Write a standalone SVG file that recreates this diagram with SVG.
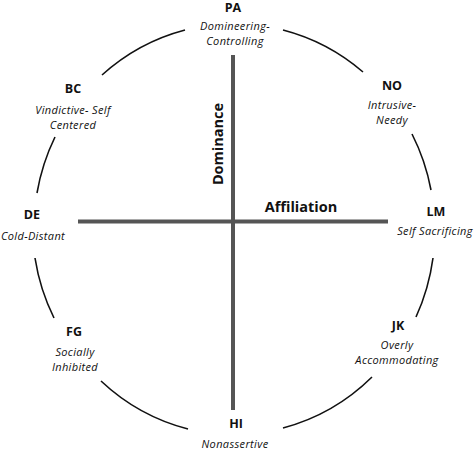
<svg xmlns="http://www.w3.org/2000/svg" width="474" height="451" viewBox="0 0 474 451">
<style>
.arc{fill:none;stroke:#111;stroke-width:1.6}
.axis{stroke:#555;stroke-width:4;fill:none}
.code{font-family:"Open Sans","Liberation Sans",sans-serif;font-weight:bold;font-size:12.5px;fill:#111;text-anchor:middle}
.desc{font-family:"Open Sans","Liberation Sans",sans-serif;font-style:italic;font-size:11px;letter-spacing:0.35px;fill:#111;text-anchor:middle}
.ax{font-family:"Open Sans","Liberation Sans",sans-serif;font-weight:bold;font-size:14.5px;fill:#111;text-anchor:middle}
</style>
<rect width="474" height="451" fill="#fff"/>
<g id="connectors">
<path class="arc" d="M283,30 A201,205 0 0 1 363,72"/>
<path class="arc" d="M412,134 A201,205 0 0 1 431,190"/>
<path class="arc" d="M433,258 A201,205 0 0 1 416,317"/>
<path class="arc" d="M372,377 A201,205 0 0 1 283,428"/>
<path class="arc" d="M188,429 A201,205 0 0 1 101,381"/>
<path class="arc" d="M54,318 A201,205 0 0 1 35,258"/>
<path class="arc" d="M37,193 A201,205 0 0 1 55,137"/>
<path class="arc" d="M102,75 A201,205 0 0 1 185,30"/>
<line class="axis" x1="233" y1="55" x2="233" y2="410"/>
<line class="axis" x1="78" y1="221.5" x2="388" y2="221.5"/>
</g>
<g id="axis-dominance"><text class="ax" transform="translate(223,144) rotate(-90)">Dominance</text></g>
<g id="axis-affiliation"><text class="ax" x="301" y="212">Affiliation</text></g>
<g id="PA"><text class="code" x="233" y="12">PA</text><text class="desc" x="235" y="30">Domineering-</text><text class="desc" x="235" y="45">Controlling</text></g>
<g id="NO"><text class="code" x="392" y="90">NO</text><text class="desc" x="392" y="109">Intrusive-</text><text class="desc" x="392" y="124">Needy</text></g>
<g id="LM"><text class="code" x="436" y="216">LM</text><text class="desc" x="435" y="235">Self Sacrificing</text></g>
<g id="JK"><text class="code" x="398" y="330">JK</text><text class="desc" x="397" y="349">Overly</text><text class="desc" x="397" y="364">Accommodating</text></g>
<g id="HI"><text class="code" x="236" y="428">HI</text><text class="desc" x="235" y="448">Nonassertive</text></g>
<g id="FG"><text class="code" x="74" y="336">FG</text><text class="desc" x="75" y="356">Socially</text><text class="desc" x="75" y="371">Inhibited</text></g>
<g id="DE"><text class="code" x="32" y="219">DE</text><text class="desc" x="33" y="240">Cold-Distant</text></g>
<g id="BC"><text class="code" x="73" y="93">BC</text><text class="desc" x="73" y="114">Vindictive- Self</text><text class="desc" x="73" y="129">Centered</text></g>
</svg>
